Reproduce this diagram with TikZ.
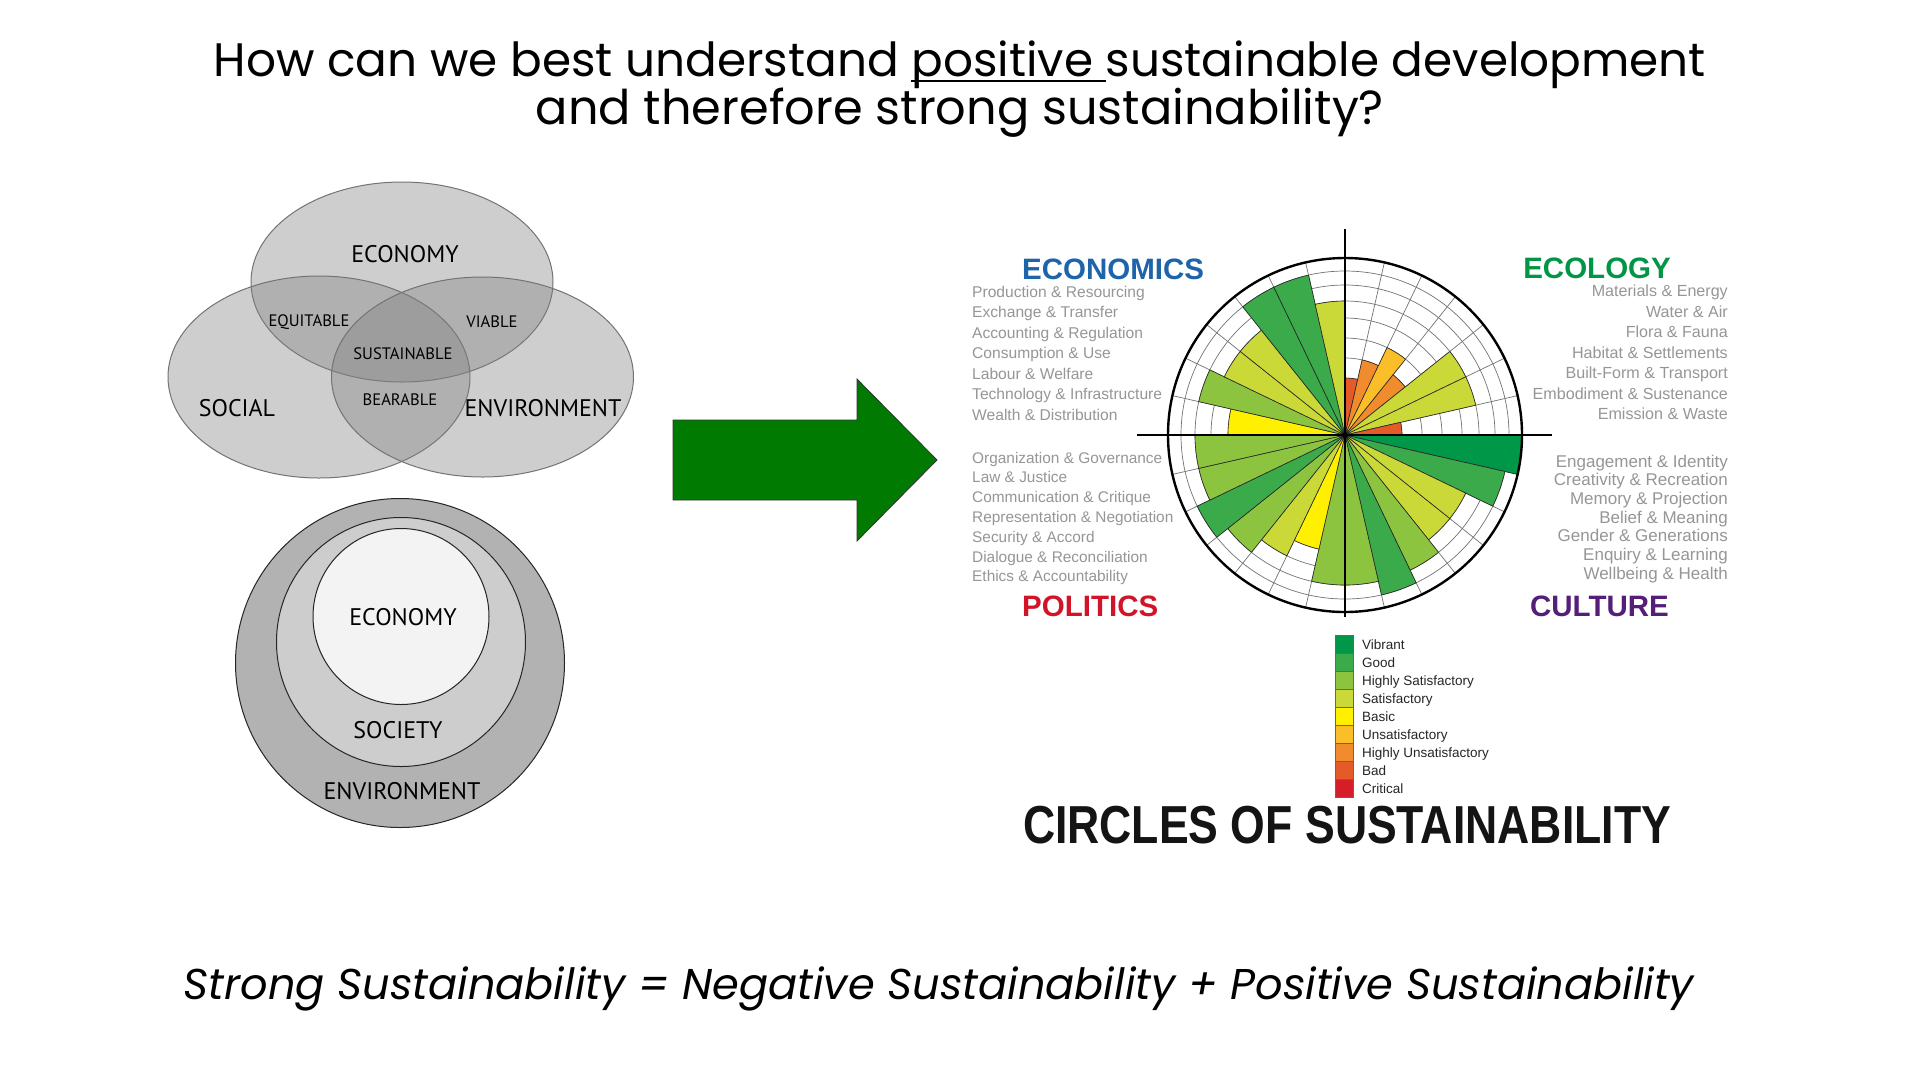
\documentclass[tikz,border=0pt]{standalone}
\usepackage{fontspec}
\usepackage{graphicx}
\setmainfont{Liberation Sans}
\newfontfamily\titlefont{Poppins}
\newfontfamily\vennfont{PT Sans}
\usetikzlibrary{calc}
\newsavebox\ulbox
\newcommand\myul[1]{\sbox\ulbox{#1}\rlap{\rule[-0.12em]{\wd\ulbox}{0.045em}}\usebox\ulbox}
\definecolor{lv9}{RGB}{0,152,72}
\definecolor{lv8}{RGB}{58,170,74}
\definecolor{lv7}{RGB}{140,196,64}
\definecolor{lv6}{RGB}{202,216,56}
\definecolor{lv5}{RGB}{255,240,0}
\definecolor{lv4}{RGB}{250,190,40}
\definecolor{lv3}{RGB}{240,140,45}
\definecolor{lv2}{RGB}{228,90,40}
\definecolor{lv1}{RGB}{214,30,40}
\definecolor{listgray}{RGB}{150,150,150}
\definecolor{ecoblue}{RGB}{30,100,170}
\definecolor{ecogreen}{RGB}{0,150,70}
\definecolor{polred}{RGB}{210,20,40}
\definecolor{culpurple}{RGB}{85,30,120}
\definecolor{arrowgreen}{RGB}{0,122,0}
\begin{document}
\begin{tikzpicture}[x=1pt,y=-1pt,
  venn/.style={draw=black!55,line width=1,fill=black!50,fill opacity=0.38},
  vennlabel/.style={inner sep=0,font=\vennfont\fontsize{24}{24}\selectfont},
  vennsmall/.style={inner sep=0,font=\vennfont\fontsize{16.6}{17}\selectfont},
  gridline/.style={draw=black!55,line width=0.7},
  wedgeline/.style={draw=black!85,line width=0.6},
  listitem/.style={inner sep=0,text=listgray,font=\fontsize{15.5}{18}\selectfont},
  domainhead/.style={inner sep=0,font=\bfseries\fontsize{29.5}{30}\selectfont},
  legenditem/.style={inner sep=0,text=black!85,font=\fontsize{13.5}{15}\selectfont},
  bigarrow/.style={fill=arrowgreen,draw=black!80,line width=0.8}
]
\useasboundingbox (0,0) rectangle (1920,1080);
\fill[white] (0,0) rectangle (1920,1080);

% ---------- title ----------
\node[inner sep=0,anchor=base] (title1) at (960,76)
  {\resizebox{1492pt}{!}{\titlefont How can we best understand \myul{positive\ }sustainable development}};
\node[inner sep=0,anchor=base] (title2) at (960,124)
  {\resizebox{848pt}{!}{\titlefont and therefore strong sustainability?}};

% ---------- Venn diagram ----------
\draw[venn] (402,282) ellipse[x radius=151, y radius=100];
\draw[venn] (319,377) ellipse[x radius=151, y radius=101];
\draw[venn] (482.5,377) ellipse[x radius=151, y radius=100];
\node[vennlabel] (vEco) at (405,254) {ECONOMY};
\node[vennlabel] (vSoc) at (237,408) {SOCIAL};
\node[vennlabel] (vEnv) at (543,408) {ENVIRONMENT};
\node[vennsmall] (vEqu) at (309,322) {EQUITABLE};
\node[vennsmall] (vVia) at (492,322) {VIABLE};
\node[vennsmall] (vSus) at (403,354) {SUSTAINABLE};
\node[vennsmall] (vBea) at (400,400) {BEARABLE};

% ---------- nested circles ----------
\draw[fill={rgb,255:red,178;green,178;blue,178},draw=black!85,line width=1] (400,663) circle[radius=164.5];
\draw[fill={rgb,255:red,205;green,205;blue,205},draw=black!85,line width=1] (401,642) circle[radius=124.5];
\draw[fill={rgb,255:red,243;green,243;blue,243},draw=black!85,line width=1] (401,616.5) circle[radius=88];
\node[vennlabel] (nEco) at (403,617) {ECONOMY};
\node[vennlabel] (nSoc) at (398,730) {SOCIETY};
\node[vennlabel] (nEnv) at (402,791) {ENVIRONMENT};

% ---------- arrow ----------
\draw[bigarrow] (673,420) -- (857,420) -- (857,379) -- (937,460) -- (857,541) -- (857,500) -- (673,500) -- cycle;

% ---------- circle of sustainability ----------
\coordinate (C) at (1345,435);
\foreach \r in {37,57,77,97,117,134,150,164}
  \draw[gridline] (C) circle[radius=\r];
\foreach \k in {0,...,27}
  \draw[gridline] (C) -- ++({\k*360/28}:177);
\foreach \i/\rr/\cc in {0/177/lv9,1/164/lv8,2/134/lv6,3/134/lv6,4/150/lv7,5/164/lv8,6/150/lv7,
  7/150/lv7,8/117/lv5,9/134/lv6,10/150/lv7,11/164/lv8,12/150/lv7,13/150/lv7,
  14/117/lv5,15/150/lv7,16/134/lv6,17/134/lv6,18/164/lv8,19/164/lv8,20/134/lv6,
  21/57/lv2,22/77/lv3,23/97/lv4,24/77/lv3,25/134/lv6,26/134/lv6,27/57/lv2}
{
  \pgfmathsetmacro{\aa}{\i*360/28}
  \pgfmathsetmacro{\bb}{(\i+1)*360/28}
  \filldraw[fill=\cc,wedgeline] (C) -- ++(\aa:\rr) arc[start angle=\aa, end angle=\bb, radius=\rr] -- cycle;
}
\draw[black,line width=2.4] (C) circle[radius=177];
\draw[black,line width=2] (1345,229) -- (1345,617);
\draw[black,line width=2] (1137,435) -- (1552,435);
\fill[black] (C) circle[radius=3];

% ---------- domain headings ----------
\node[domainhead,text=ecoblue,anchor=base west] (hEcon) at (1022,279) {ECONOMICS};
\node[domainhead,text=ecogreen,anchor=base east] (hEcol) at (1671,278) {ECOLOGY};
\node[domainhead,text=polred,anchor=base west] (hPol) at (1022,616) {POLITICS};
\node[domainhead,text=culpurple,anchor=base east] (hCul) at (1669,616) {CULTURE};

% ---------- lists ----------
\foreach \t [count=\n] in {Production \& Resourcing,Exchange \& Transfer,Accounting \& Regulation,Consumption \& Use,Labour \& Welfare,Technology \& Infrastructure,Wealth \& Distribution}
  \node[listitem,font=\fontsize{15.6}{18}\selectfont,anchor=base west] (ec\n) at (972,{297+(\n-1)*20.5}) {\t};
\foreach \t [count=\n] in {Organization \& Governance,Law \& Justice,Communication \& Critique,Representation \& Negotiation,Security \& Accord,Dialogue \& Reconciliation,Ethics \& Accountability}
  \node[listitem,font=\fontsize{15.4}{18}\selectfont,anchor=base west] (po\n) at (972,{463+(\n-1)*19.8}) {\t};
\foreach \t [count=\n] in {Materials \& Energy,Water \& Air,Flora \& Fauna,Habitat \& Settlements,Built-Form \& Transport,Embodiment \& Sustenance,Emission \& Waste}
  \node[listitem,font=\fontsize{16.1}{18}\selectfont,anchor=base east] (el\n) at (1728,{296.5+(\n-1)*20.5}) {\t};
\foreach \t [count=\n] in {Engagement \& Identity,Creativity \& Recreation,Memory \& Projection,Belief \& Meaning,Gender \& Generations,Enquiry \& Learning,Wellbeing \& Health}
  \node[listitem,font=\fontsize{17}{18}\selectfont,anchor=base east] (cu\n) at (1728,{467+(\n-1)*18.7}) {\t};

% ---------- legend ----------
\foreach \c/\t [count=\n] in {lv9/Vibrant,lv8/Good,lv7/Highly Satisfactory,lv6/Satisfactory,lv5/Basic,lv4/Unsatisfactory,lv3/Highly Unsatisfactory,lv2/Bad,lv1/Critical}
{
  \filldraw[fill=\c,draw=black!60,line width=0.5] (1335,{635+(\n-1)*18}) rectangle (1353,{653+(\n-1)*18});
  \node[legenditem,anchor=base west] (lg\n) at (1362,{649+(\n-1)*18}) {\t};
}

% ---------- chart title ----------
\node[inner sep=0,anchor=base,text=black!92] (cos) at (1347,843)
  {\resizebox{648pt}{!}{\scalebox{1}[1.2]{\bfseries\fontsize{44}{45}\selectfont CIRCLES OF SUSTAINABILITY}}};

% ---------- bottom line ----------
\node[inner sep=0,anchor=base] (bottom) at (939,999)
  {\resizebox{1510pt}{!}{\titlefont\itshape Strong Sustainability = Negative Sustainability + Positive Sustainability}};
\end{tikzpicture}
\end{document}
